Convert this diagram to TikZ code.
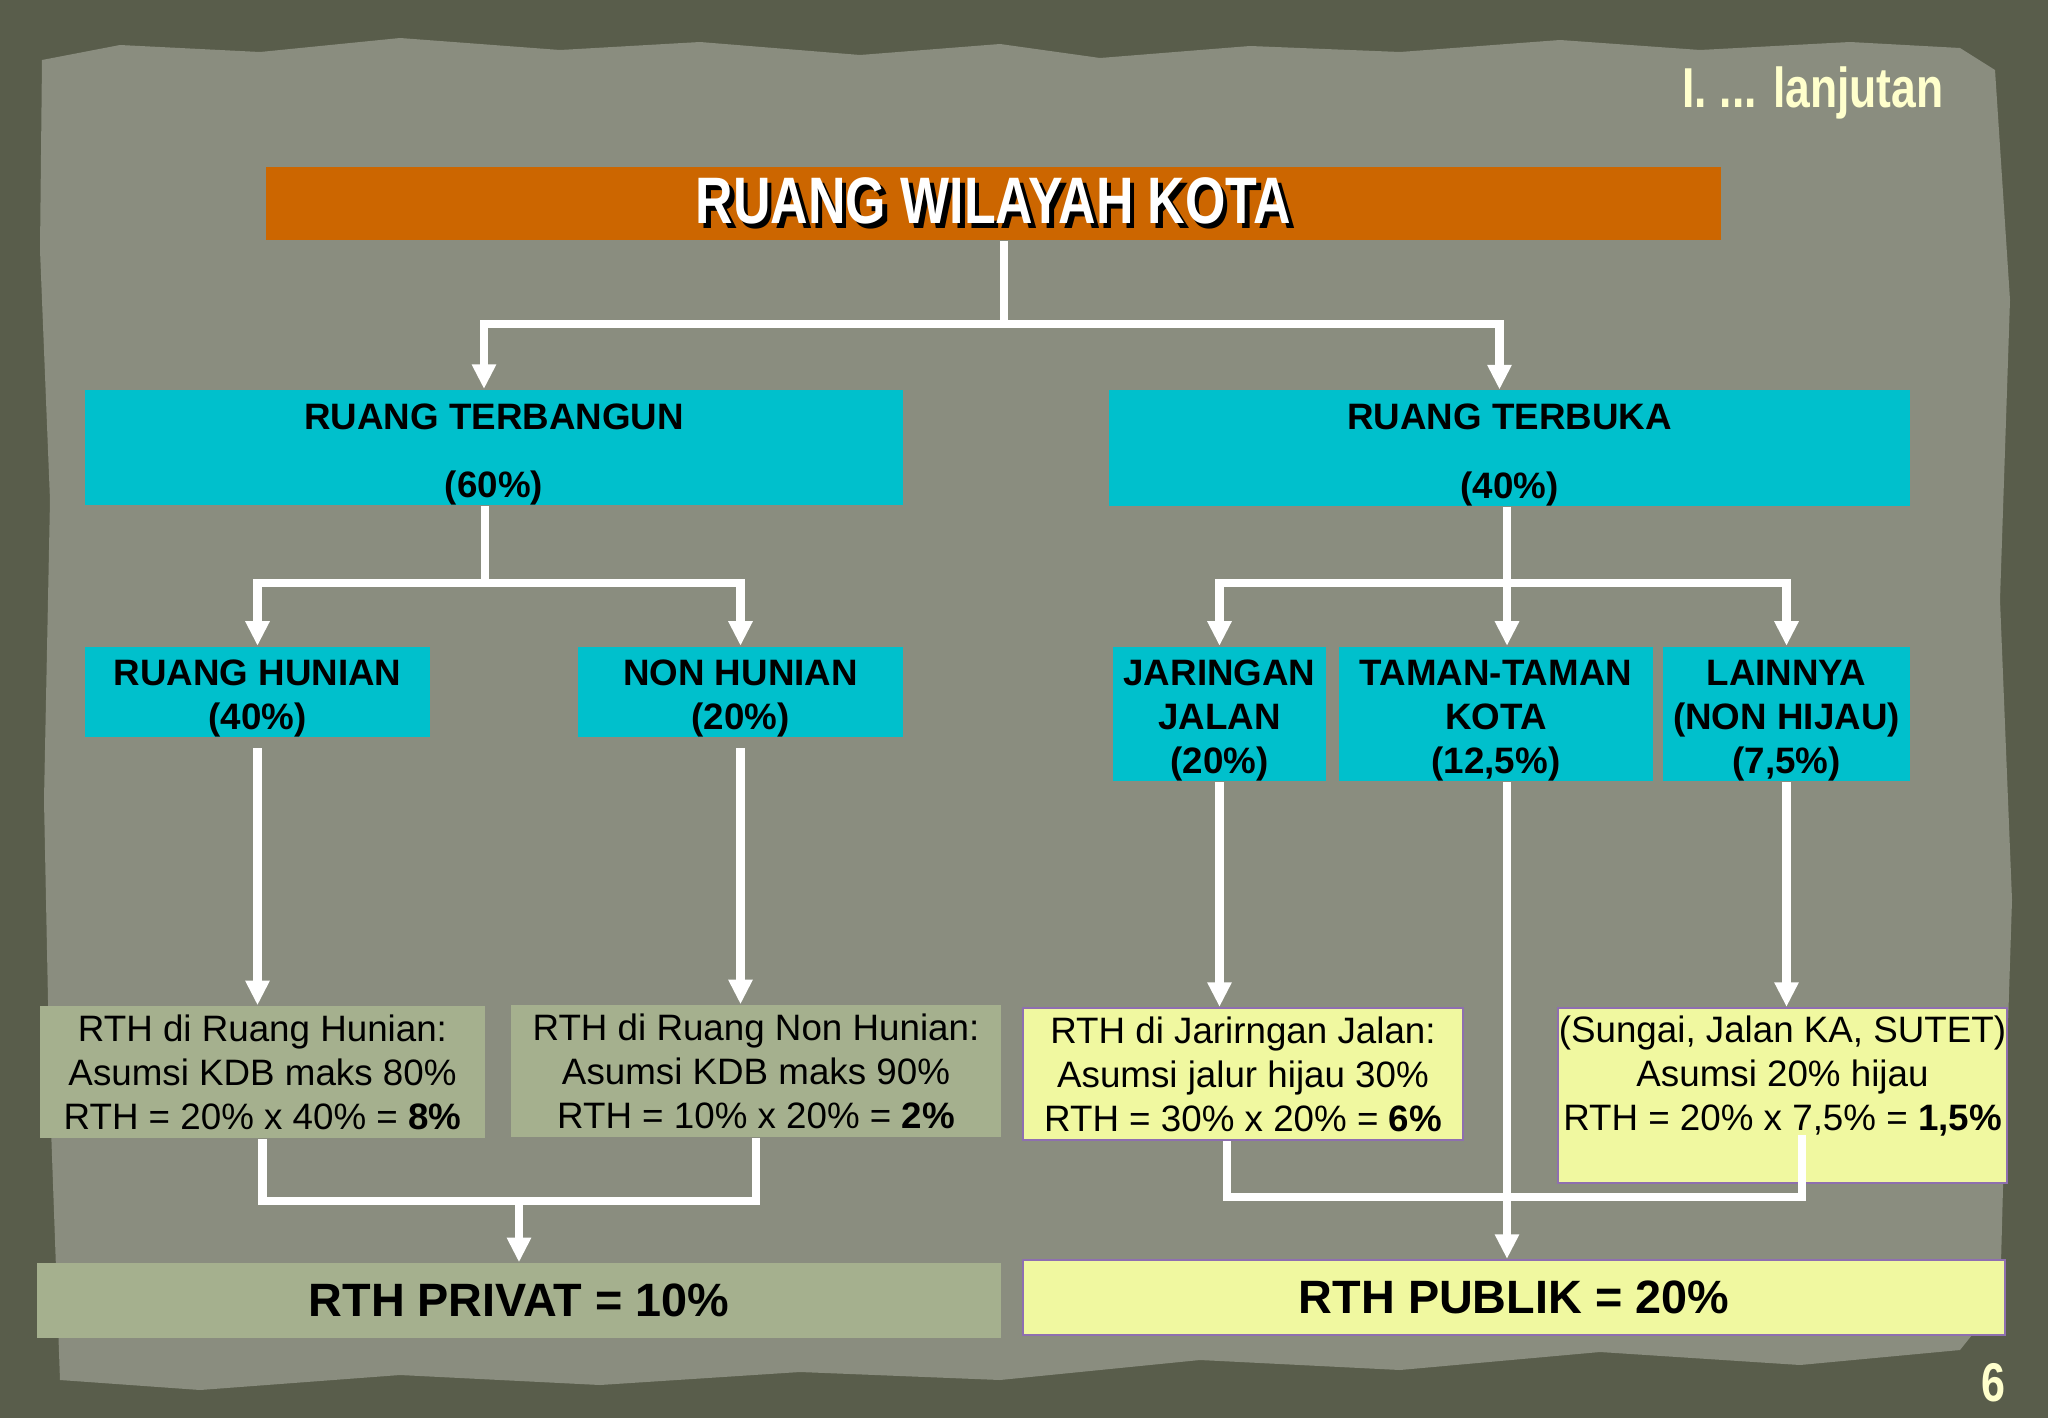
\documentclass[tikz,border=0pt]{standalone}
\usepackage{fontspec}
\setmainfont{Liberation Sans}
\newfontfamily\narrowfont{Liberation Sans}[FakeStretch=0.79]
\usetikzlibrary{arrows.meta,calc}

\definecolor{frame}{HTML}{595D4B}
\definecolor{paper}{HTML}{8A8D7F}
\definecolor{kotaorange}{HTML}{CC6600}
\definecolor{ruangcyan}{HTML}{00C0CC}
\definecolor{privatsage}{HTML}{A5B08E}
\definecolor{publiklemon}{HTML}{F0F8A0}
\definecolor{lemonedge}{HTML}{8E6FB0}
\definecolor{paleyellow}{HTML}{FFFFCC}

\newcommand{\shadowed}[1]{\makebox[0pt][l]{\hspace{1.3pt}\raisebox{-1.3pt}{\color{black}#1}}#1}
\newcommand{\topstrut}{\rule{0pt}{11.2pt}}

\begin{document}
\begin{tikzpicture}[x=0.01cm,y=-0.01cm,
	box/.style={inner sep=0pt, align=center, font=\fontsize{10.45}{12.5}\selectfont},
	cyanbox/.style={box, fill=ruangcyan, font=\fontsize{10.45}{12.5}\selectfont\bfseries},
	sagebox/.style={box, fill=privatsage},
	lemonbox/.style={box, fill=publiklemon, draw=lemonedge, line width=0.6pt},
	bigtext/.style={font=\fontsize{13.3}{16}\selectfont\bfseries},
	line/.style={draw=white, line width=2.3pt},
	arr/.style={line, -{Triangle[width=6.5pt,length=7pt]}}]
\useasboundingbox (0,0) rectangle (2048,1418);
% background
\fill[frame] (0,0) rectangle (2048,1418);
\fill[paper] (42,60) -- (120,45) -- (260,52) -- (400,38) -- (560,50) -- (700,42) -- (860,55)
	-- (1000,44) -- (1100,58) -- (1250,46) -- (1400,52) -- (1560,40) -- (1700,50) -- (1850,42)
	-- (1960,48) -- (1995,70) -- (2010,300) -- (2000,600) -- (2012,900) -- (2004,1150)
	-- (2000,1300) -- (1960,1350) -- (1800,1365) -- (1600,1352) -- (1400,1370) -- (1200,1360)
	-- (1000,1380) -- (800,1372) -- (600,1385) -- (400,1375) -- (200,1390) -- (60,1380)
	-- (50,1100) -- (44,800) -- (50,500) -- (40,250) -- cycle;

\node[anchor=base east, text=paleyellow, font=\fontsize{16}{19}\narrowfont\bfseries] (lanjut) at (1956,107) {I. ... lanjutan};
\node[anchor=base east, text=paleyellow, font=\fontsize{15.5}{18}\narrowfont\bfseries] (hal) at (2018,1401) {6};

\node[fill=kotaorange, text=white, minimum width=14.55cm, minimum height=0.73cm, inner sep=0pt,
	font=\fontsize{18.7}{22}\narrowfont\bfseries] (kota) at (993.5,203.5) {\shadowed{RUANG WILAYAH KOTA}};

\node[cyanbox, minimum width=8.18cm, minimum height=1.11cm] (terbangun) at (494,447.5) {\topstrut RUANG TERBANGUN\\[7pt](60\%)};
\node[cyanbox, minimum width=8.01cm, minimum height=1.12cm] (terbuka) at (1509.5,448) {\topstrut RUANG TERBUKA\\[7pt](40\%)};

\node[cyanbox, minimum width=3.45cm, minimum height=0.88cm] (hunian) at (257.5,692) {\topstrut RUANG HUNIAN\\(40\%)};
\node[cyanbox, minimum width=3.25cm, minimum height=0.88cm] (nonhunian) at (740.5,692) {\topstrut NON HUNIAN\\(20\%)};
\node[cyanbox, minimum width=2.13cm, minimum height=1.32cm] (jaringan) at (1219.5,714) {\topstrut JARINGAN\\JALAN\\(20\%)};
\node[cyanbox, minimum width=3.14cm, minimum height=1.32cm] (taman) at (1496,714) {\topstrut TAMAN-TAMAN\\KOTA\\(12,5\%)};
\node[cyanbox, minimum width=2.47cm, minimum height=1.32cm] (lainnya) at (1786.5,714) {\topstrut LAINNYA\\(NON HIJAU)\\(7,5\%)};

\node[sagebox, minimum width=4.45cm, minimum height=1.32cm] (rthhunian) at (262.5,1072) {RTH di Ruang Hunian:\\Asumsi KDB maks 80\%\\RTH = 20\% x 40\% = \textbf{8\%}};
\node[sagebox, minimum width=4.90cm, minimum height=1.32cm] (rthnon) at (756,1071) {RTH di Ruang Non Hunian:\\Asumsi KDB maks 90\%\\RTH = 10\% x 20\% = \textbf{2\%}};
\node[lemonbox, minimum width=4.40cm, minimum height=1.32cm] (rthjalan) at (1243,1074) {RTH di Jarirngan Jalan:\\Asumsi jalur hijau 30\%\\RTH = 30\% x 20\% = \textbf{6\%}};
\node[lemonbox, minimum width=4.49cm, minimum height=1.75cm] (rthlain) at (1782.5,1095.5) {(Sungai, Jalan KA, SUTET)\\Asumsi 20\% hijau\\RTH = 20\% x 7,5\% = \textbf{1,5\%}\\\mbox{}};

\node[sagebox, bigtext, minimum width=9.64cm, minimum height=0.75cm] (privat) at (519,1300.5) {RTH PRIVAT = 10\%};
\node[lemonbox, bigtext, minimum width=9.82cm, minimum height=0.75cm] (publik) at (1514,1297.5) {RTH PUBLIK = 20\%};

% cabang atas
\coordinate (s1) at (1004,324);
\draw[line] (kota.south -| s1) -- (s1);
\draw[arr] (s1) -| ([xshift=-0.1cm]terbangun.north);
\draw[arr] (s1) -| ([xshift=-0.1cm]terbuka.north);

\coordinate (s2) at (485,583);
\draw[line] (terbangun.south -| s2) -- (s2);
\draw[arr] (s2) -| (hunian.north);
\draw[arr] (s2) -| (nonhunian.north);

\coordinate (s3) at (1507,583);
\draw[arr] (terbuka.south -| s3) -- (s3 |- taman.north);
\draw[arr] (s3) -| (jaringan.north);
\draw[arr] (s3) -| (lainnya.north);

% ke RTH
\draw[arr, shorten <=0.1cm] (hunian.south) -- (hunian.south |- rthhunian.north);
\draw[arr, shorten <=0.1cm] (nonhunian.south) -- (nonhunian.south |- rthnon.north);
\draw[arr] (jaringan.south) -- (jaringan.south |- rthjalan.north);
\draw[arr] (lainnya.south) -- (lainnya.south |- rthlain.north);
\draw[arr] (taman.south -| s3) -- (s3 |- publik.north);

% gabung bawah
\coordinate (s4) at (519,1201);
\draw[line] (rthhunian.south) |- (s4) -| (rthnon.south);
\draw[arr] (s4) -- (privat.north);
\coordinate (s5) at (1802,1197);
\coordinate (s6) at (1802,1135);
\draw[line] ([xshift=-0.16cm]rthjalan.south) |- (s5) -- (s6);
\end{tikzpicture}
\end{document}
